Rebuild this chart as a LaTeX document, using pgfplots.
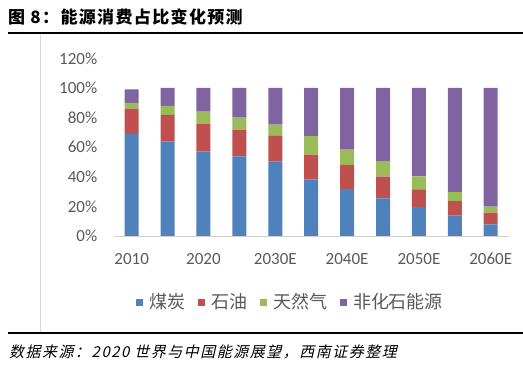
\documentclass[border=0pt]{standalone}
\usepackage{pgfplots}
\pgfplotsset{compat=1.18}
\usepackage{fontspec}
\setmainfont{Carlito}
\newfontfamily\cjk{Noto Sans CJK SC}
\newfontfamily\cjkit[FakeSlant=0.22]{Noto Sans CJK SC}
\definecolor{cCoal}{HTML}{4F81BD}
\definecolor{cOil}{HTML}{C0504D}
\definecolor{cGas}{HTML}{9BBB59}
\definecolor{cNon}{HTML}{8064A2}
\definecolor{tgray}{HTML}{595959}
\begin{document}
\begin{tikzpicture}
\path[use as bounding box] (0,0) rectangle (523pt,-366pt);
% title and rules
\node[anchor=west, inner sep=0pt] at (8pt,-17pt) {\fontsize{17}{20}\selectfont\cjk\addfontfeature{LetterSpace=8}\bfseries 图 8：能源消费占比变化预测};
\draw[line width=2pt, black] (8pt,-33.5pt) -- (523pt,-33.5pt);
\draw[line width=0.6pt, black!15] (40pt,-35pt) -- (40pt,-332pt);
\draw[line width=2.2pt, black] (8pt,-333pt) -- (523pt,-333pt);
\node[anchor=west, inner sep=0pt] at (9pt,-352pt) {\fontsize{15}{17}\selectfont\cjkit\addfontfeature{LetterSpace=10}数据来源：2020 世界与中国能源展望，西南证券整理};
\begin{axis}[
  at={(113.7pt,-236pt)}, anchor=south west,
  scale only axis, width=395pt, height=177.6pt,
  ybar stacked, bar width=14pt,
  xmin=-0.5, xmax=10.5, ymin=0, ymax=120,
  xtick={0,2,4,6,8,10},
  xticklabels={2010,2020,2030E,2040E,2050E,2060E},
  ytick={0,20,40,60,80,100,120},
  yticklabel={\pgfmathprintnumber{\tick}\%},
  /pgf/number format/assume math mode=true,
  axis lines*=left,
  x axis line style={draw=black!18, line width=0.8pt},
  y axis line style={draw=none},
  major tick length=0pt,
  tick label style={font=\fontsize{17}{20}\selectfont, text=tgray},
  yticklabel style={xshift=-13pt},
  xticklabel style={anchor=north, text height=12pt, text depth=0pt, yshift=-13pt},
  legend image code/.code={\fill[#1] (0pt,-3.5pt) rectangle (7pt,3.5pt);},
  legend columns=4,
  legend style={draw=none, fill=none, at={(0.4476,-0.372)}, anchor=center,
    font=\fontsize{18}{20}\selectfont\cjk, text=tgray,
    /tikz/every odd column/.append style={column sep=4pt},
    /tikz/every even column/.append style={column sep=11pt}},
]
\addplot[fill=cCoal, draw=none] coordinates {(0,69) (1,64.0) (2,57.2) (3,53.8) (4,50.2) (5,38.3) (6,31.8) (7,25.5) (8,19.6) (9,13.7) (10,7.9)};
\addplot[fill=cOil, draw=none] coordinates {(0,17) (1,17.8) (2,18.7) (3,18.0) (4,17.4) (5,16.7) (6,16.2) (7,14.6) (8,11.9) (9,9.9) (10,7.9)};
\addplot[fill=cGas, draw=none] coordinates {(0,4) (1,6.2) (2,8.1) (3,8.2) (4,7.6) (5,12.4) (6,10.3) (7,10.1) (8,8.8) (9,6.1) (10,4.0)};
\addplot[fill=cNon, draw=none] coordinates {(0,9) (1,12.0) (2,16.0) (3,20.0) (4,24.8) (5,32.6) (6,41.7) (7,49.8) (8,59.7) (9,70.3) (10,80.2)};
\legend{煤炭,石油,天然气,非化石能源}
\end{axis}
\end{tikzpicture}
\end{document}
